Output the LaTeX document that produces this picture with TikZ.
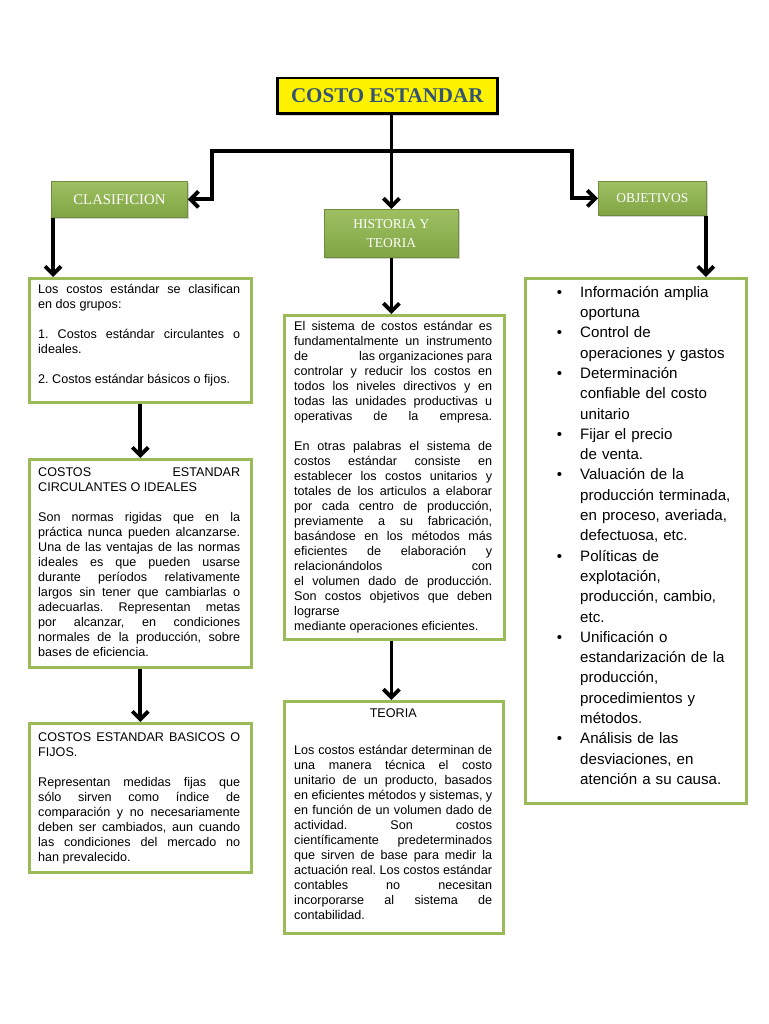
\documentclass[tikz,border=0pt]{standalone}
\usepackage{fontspec}
\setmainfont{Liberation Sans}
\newfontfamily\headserif{Liberation Serif}
\usetikzlibrary{arrows.meta,shadows,calc}
\definecolor{greentop}{RGB}{158,192,98}
\definecolor{greenbot}{RGB}{128,164,68}
\definecolor{headborder}{RGB}{112,140,60}
\definecolor{boxborder}{RGB}{155,187,89}
\definecolor{titletext}{RGB}{52,84,118}
\setlength\parindent{0pt}
\setlength\parskip{0pt}
\tolerance=10000
\pretolerance=-1
\hbadness=10000
\hfuzz=20pt
\hyphenpenalty=10000
\exhyphenpenalty=10000
\frenchspacing
\newcommand\itembul{\leavevmode\llap{\textbullet\hspace{18pt}}}
\begin{document}
\begin{tikzpicture}[x=1pt,y=-1pt,
  line/.style={line width=3.8pt, line cap=rect},
  arr/.style={line width=3.8pt, -{Straight Barb[length=8pt,width=16pt]}},
  head/.style={draw=headborder, line width=0.8pt, top color=greentop, bottom color=greenbot,
    text=white, align=center, inner sep=0pt, anchor=north west,
    drop shadow={shadow xshift=2pt, shadow yshift=-2pt, opacity=0.35}},
  tbox/.style={draw=boxborder, line width=2.6pt, fill=white, inner sep=0pt, anchor=north west,
    drop shadow={shadow xshift=1.5pt, shadow yshift=-1.5pt, opacity=0.2}},
  ttext/.style={inner sep=0pt, anchor=north west, align=justify,
    font=\fontsize{12.6}{15}\selectfont\frenchspacing},
  ltext/.style={inner sep=0pt, anchor=north west, align=left, text width=165pt,
    font=\fontsize{15.1}{20.3}\selectfont}
]
\fill[white] (0,0) rectangle (768,1024);
\useasboundingbox (0,0) rectangle (768,1024);

% title
\node[draw=black, line width=2.5pt, fill=yellow, minimum width=220, minimum height=35.5,
  inner sep=0pt, anchor=north west,
  drop shadow={shadow xshift=2pt, shadow yshift=-2pt, opacity=0.3}] (title) at (276,77)
  {\headserif\bfseries\fontsize{21}{24}\selectfont\color{titletext}COSTO ESTANDAR};

% headers
\node[head, minimum width=136, minimum height=36, font=\headserif\fontsize{14.8}{17}\selectfont] (clas) at (51,181) {CLASIFICION};
\node[head, minimum width=134, minimum height=48, font=\headserif\fontsize{13.5}{18.6}\selectfont] (hist) at (324,209) {HISTORIA Y\\TEORIA};
\node[head, minimum width=108, minimum height=34, font=\headserif\fontsize{13.5}{16}\selectfont] (obj) at (598,181) {OBJETIVOS};

% boxes
\node[tbox, minimum width=222, minimum height=124] (b1) at (28,277) {};
\node[tbox, minimum width=222, minimum height=208] (b2) at (28,458) {};
\node[tbox, minimum width=222, minimum height=149] (b3) at (28,722) {};
\node[tbox, minimum width=220, minimum height=324] (b4) at (283,314) {};
\node[tbox, minimum width=219, minimum height=232] (b5) at (283,700) {};
\node[tbox, minimum width=221, minimum height=525] (b6) at (524,277) {};

% texts
\node[ttext, text width=202pt] (t1) at (38,281.6) {\rule{0pt}{12pt}Los costos estándar se clasifican\linebreak en dos grupos:\par\vspace{15pt}
1. Costos estándar circulantes o\linebreak ideales.\par\vspace{15pt}
2. Costos estándar básicos o fijos.};

\node[ttext, text width=202pt] (t2) at (38,464.5) {\rule{0pt}{12pt}COSTOS ESTANDAR\linebreak CIRCULANTES O IDEALES\par\vspace{15pt}
Son normas rigidas que en la\linebreak práctica nunca pueden alcanzarse.\linebreak Una de las ventajas de las normas\linebreak ideales es que pueden usarse\linebreak durante períodos relativamente\linebreak largos sin tener que cambiarlas o\linebreak adecuarlas. Representan metas\linebreak por alcanzar, en condiciones\linebreak normales de la producción, sobre\linebreak bases de eficiencia.};

\node[ttext, text width=202pt] (t3) at (38,729.5) {\rule{0pt}{12pt}COSTOS ESTANDAR BASICOS O\linebreak FIJOS.\par\vspace{15pt}
Representan medidas fijas que\linebreak sólo sirven como índice de\linebreak comparación y no necesariamente\linebreak deben ser cambiados, aun cuando\linebreak las condiciones del mercado no\linebreak han prevalecido.};

\node[ttext, text width=198pt] (t4) at (294,318) {\rule{0pt}{12pt}El sistema de costos estándar es\linebreak fundamentalmente un instrumento\linebreak de\hfill las organizaciones para\linebreak controlar y reducir los costos en\linebreak todos los niveles directivos y en\linebreak todas las unidades productivas u\linebreak operativas de la empresa.{\parfillskip=0pt\par}\vspace{15pt}
En otras palabras el sistema de\linebreak costos estándar consiste en\linebreak establecer los costos unitarios y\linebreak totales de los articulos a elaborar\linebreak por cada centro de producción,\linebreak previamente a su fabricación,\linebreak basándose en los métodos más\linebreak eficientes de elaboración y\linebreak relacionándolos\hfill con\linebreak el volumen dado de producción.\linebreak Son costos objetivos que deben\linebreak lograrse\\mediante operaciones eficientes.};

\node[ttext, text width=198pt] (t5) at (294,705.5) {{\centering\rule{0pt}{12pt}TEORIA\par}\vspace{21.5pt}
Los costos estándar determinan de\linebreak una manera técnica el costo\linebreak unitario de un producto, basados\linebreak en eficientes métodos y sistemas, y\linebreak en función de un volumen dado de\linebreak actividad. Son costos\linebreak científicamente predeterminados\linebreak que sirven de base para medir la\linebreak actuación real. Los costos estándar\linebreak contables no necesitan\linebreak incorporarse al sistema de\linebreak contabilidad.};

\node[ltext] (t6) at (580,283) {\rule{0pt}{14pt}\itembul Información amplia\\oportuna\\
\itembul Control de\\operaciones y gastos\\
\itembul Determinación\\confiable del costo\\unitario\\
\itembul Fijar el precio\\de venta.\\
\itembul Valuación de la\\producción terminada,\\en proceso, averiada,\\defectuosa, etc.\\
\itembul Políticas de\\explotación,\\producción, cambio,\\etc.\\
\itembul Unificación o\\estandarización de la\\producción,\\procedimientos y\\métodos.\\
\itembul Análisis de las\\desviaciones, en\\atención a su causa.};

% connectors
\coordinate (jl) at (212,151);
\coordinate (jr) at (572,151);
\draw[line] (jl) -- (jr);
\draw[line] (hist.north |- title.south) -- (hist.north |- jl);
\draw[arr] (hist.north |- jl) -- (hist.north);
\draw[arr] (jl) |- (clas.east);
\draw[arr] (jr) |- (obj.west);
\draw[arr] ([xshift=2pt]clas.south west) -- ([xshift=2pt]clas.south west |- b1.north);
\draw[arr] ([xshift=-1pt]obj.south east) -- ([xshift=-1pt]obj.south east |- b6.north);
\draw[arr] (hist.south) -- (hist.south |- b4.north);
\draw[arr] (b4.south -| hist.south) -- (b5.north -| hist.south);
\draw[arr] (b1.south) -- (b2.north);
\draw[arr] (b2.south) -- (b3.north);
\end{tikzpicture}
\end{document}
